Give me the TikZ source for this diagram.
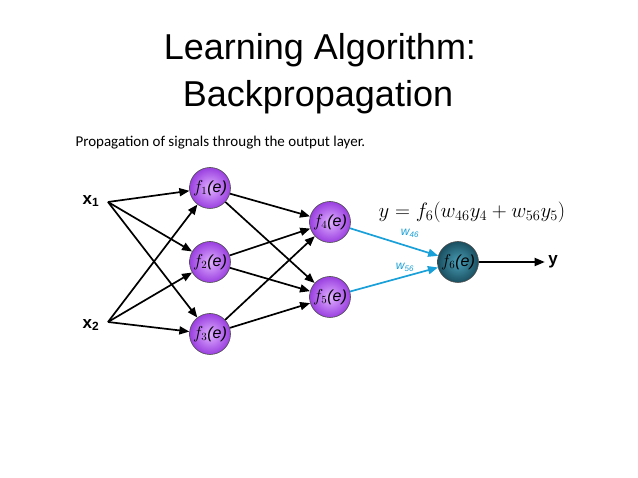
\documentclass[tikz,border=0pt]{standalone}
\usepackage{fontspec}
\setmainfont{Liberation Sans}
\newfontfamily\calib{Carlito}
\usetikzlibrary{arrows.meta}
\definecolor{pl}{HTML}{E0B0FF}
\definecolor{pd}{HTML}{9A3FE0}
\definecolor{tl}{HTML}{4A9FB8}
\definecolor{td}{HTML}{1A4F60}
\definecolor{bl}{HTML}{1AA0D8}
\begin{document}
\begin{tikzpicture}[x=1pt,y=-1pt,
  neuron/.style={circle,draw=black!70,line width=0.6pt,minimum size=41pt,inner sep=0pt,
    inner color=pl,outer color=pd,font=\itshape\fontsize{16}{16}\selectfont},
  outn/.style={circle,draw=black!70,line width=0.6pt,minimum size=41pt,inner sep=0pt,
    inner color=tl,outer color=td,font=\itshape\fontsize{16}{16}\selectfont},
  edge/.style={-{Triangle[length=10pt,width=8pt]},line width=1.7pt},
  bedge/.style={edge,draw=bl,color=bl}]
\useasboundingbox (0,0) rectangle (638,478);
\node at (320,50) {\fontsize{36}{36}\selectfont Learning Algorithm:};
\node at (318,97) {\fontsize{36}{36}\selectfont Backpropagation};
\node[anchor=west] at (72,143) {\calib\fontsize{15}{15}\selectfont Propagation of signals through the output layer.};
\node (x1) at (91,201) {\bfseries\fontsize{17}{17}\selectfont x\textsubscript{1}};
\node (x2) at (91,325) {\bfseries\fontsize{17}{17}\selectfont x\textsubscript{2}};
\coordinate (s1) at (108,202);
\coordinate (s2) at (108,322);
\node[neuron] (f1) at (210,188) {$f_1$(e)};
\node[neuron] (f2) at (210,262) {$f_2$(e)};
\node[neuron] (f3) at (210,334) {$f_3$(e)};
\node[neuron] (f4) at (330,222) {$f_4$(e)};
\node[neuron] (f5) at (330,297) {$f_5$(e)};
\node[outn] (f6) at (458,262) {$f_6$(e)};
\node (y) at (553,262) {\bfseries\fontsize{17}{17}\selectfont y};
\foreach \s in {s1,s2} \foreach \t in {f1,f2,f3} \draw[edge] (\s) -- (\t);
\foreach \s in {f1,f2,f3} \foreach \t in {f4,f5} \draw[edge] (\s) -- (\t);
\draw[bedge] (f4) -- (f6);
\draw[bedge] (f5) -- (f6);
\draw[edge] (f6) -- (y);
\node[text=bl,font=\itshape\fontsize{12}{12}\selectfont] at (410,233) {w\textsubscript{46}};
\node[text=bl,font=\itshape\fontsize{12}{12}\selectfont] at (405,267) {w\textsubscript{56}};
\node at (472,212) {\fontsize{21}{21}\selectfont $y = f_6(w_{46}y_4 + w_{56}y_5)$};
\end{tikzpicture}
\end{document}
